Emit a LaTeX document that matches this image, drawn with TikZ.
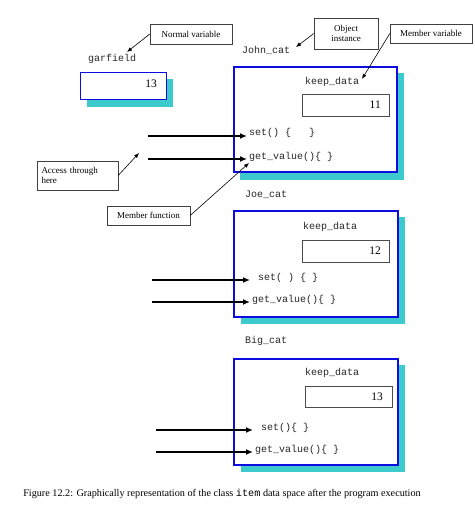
\documentclass[tikz,border=0pt]{standalone}
\usepackage{fontspec}
\setmainfont{Liberation Serif}
\setmonofont{Liberation Mono}
\usetikzlibrary{arrows.meta}
\definecolor{objblue}{RGB}{12,12,225}
\definecolor{shadecyan}{RGB}{60,202,204}

\begin{document}
\begin{tikzpicture}[x = 1pt, y = -1pt,
        note/.style = {draw = black!75, fill = white, inner sep = 0pt, align = center,
                       font = \fontsize{9}{10}\selectfont},
        code/.style = {anchor = base west, inner sep = 2pt, text = black!85, font = \ttfamily\fontsize{10}{11}\selectfont},
        num/.style = {anchor = east, inner sep = 0pt, font = \fontsize{11.5}{12}\selectfont},
        callout/.style = {black, line width = 0.6pt, -{Latex[length=5pt, width=4pt]}},
        access/.style = {black, line width = 1.4pt, -{Latex[length=7pt, width=6pt]}}]
                \useasboundingbox (0,0) rectangle (474,505);

                % normal variable
                \fill[shadecyan] (87,79) rectangle (173,107);
                \filldraw[draw = objblue, fill = white, line width = 0.8pt] (80,72) rectangle (166,99);
                \node[code, anchor = west] (garfield) at (86,59) {garfield};
                \node[num] (gval) at (157,84) {13};

                % John_cat
                \fill[shadecyan] (240,73) rectangle (404,180);
                \filldraw[draw = objblue, fill = white, line width = 1.6pt] (234,67) rectangle (397,172);
                \draw[black!70, line width = 0.8pt] (302,94) rectangle (389,116);
                \node[code, anchor = west] (john) at (240,50) {John\_cat};
                \node[code, anchor = west] (jkeep) at (303,82) {keep\_data};
                \node[num] (jval) at (381,105) {11};
                \node[code] (jset) at (247,136) {set()~\{~~~\}};
                \node[code] (jget) at (247,159) {get\_value()\{~\}};

                % Joe_cat
                \fill[shadecyan] (241,217) rectangle (405,324);
                \filldraw[draw = objblue, fill = white, line width = 1.6pt] (234,211) rectangle (398,317);
                \draw[black!70, line width = 0.8pt] (302,240) rectangle (389,262);
                \node[code, anchor = west] (joe) at (243,195) {Joe\_cat};
                \node[code, anchor = west] (okeep) at (301,227) {keep\_data};
                \node[num] (oval) at (381,251) {12};
                \node[code] (oset) at (250,280) {~set(~)~\{~\}};
                \node[code] (oget) at (250,302) {get\_value()\{~\}};

                % Big_cat
                \fill[shadecyan] (241,365) rectangle (405,472);
                \filldraw[draw = objblue, fill = white, line width = 1.6pt] (234,359) rectangle (398,465);
                \draw[black!70, line width = 0.8pt] (305,386) rectangle (392,407);
                \node[code, anchor = west] (big) at (243,341) {Big\_cat};
                \node[code, anchor = west] (bkeep) at (303,373) {keep\_data};
                \node[num] (bval) at (383,397) {13};
                \node[code] (bset) at (253,430) {~set()\{~\}};
                \node[code] (bget) at (253,452) {get\_value()\{~\}};

                % access arrows
                \coordinate (jsetin) at (148,136);
                \coordinate (jgetin) at (148,159);
                \coordinate (osetin) at (152,280);
                \coordinate (ogetin) at (152,302);
                \coordinate (bsetin) at (156,430);
                \coordinate (bgetin) at (156,452);
                \draw[access] (jsetin) -- (jset.base west);
                \draw[access] (jgetin) -- (jget.base west);
                \draw[access] (osetin) -- (oset.base west);
                \draw[access] (ogetin) -- (oget.base west);
                \draw[access] (bsetin) -- (bset.base west);
                \draw[access] (bgetin) -- (bget.base west);

                % callouts
                \node[note, minimum width = 82pt, minimum height = 20pt] (nv) at (191,34) {Normal variable};
                \node[note, minimum width = 64pt, minimum height = 31pt] (oi) at (346,33.5) {Object\\instance};
                \node[note, minimum width = 82pt, minimum height = 19pt] (mv) at (431,33.5) {Member variable};
                \node[note, minimum width = 81pt, minimum height = 29pt, text width = 72pt, align = left] (ath) at (77.5,175.5) {Access through\\here};
                \node[note, minimum width = 83pt, minimum height = 19pt] (mf) at (148.5,215.5) {Member function};
                \coordinate (nvtip) at (127,52);
                \coordinate (oitip) at (296,47);
                \coordinate (mvtip) at (362,79);
                \coordinate (athtip) at (139,153);
                \coordinate (mftip) at (249,163);
                \draw[callout] (nv.west) -- (nvtip);
                \draw[callout] (oi.west) -- (oitip);
                \draw[callout] (mv.west) -- (mvtip);
                \draw[callout] (ath.east) -- (athtip);
                \draw[callout] (mf.east) -- (mftip);

                \node[font = \fontsize{10.2}{11}\selectfont] (caption) at (222,494) {Figure 12.2: Graphically representation of the class {\ttfamily item} data space after the program execution};
\end{tikzpicture}
\end{document}
